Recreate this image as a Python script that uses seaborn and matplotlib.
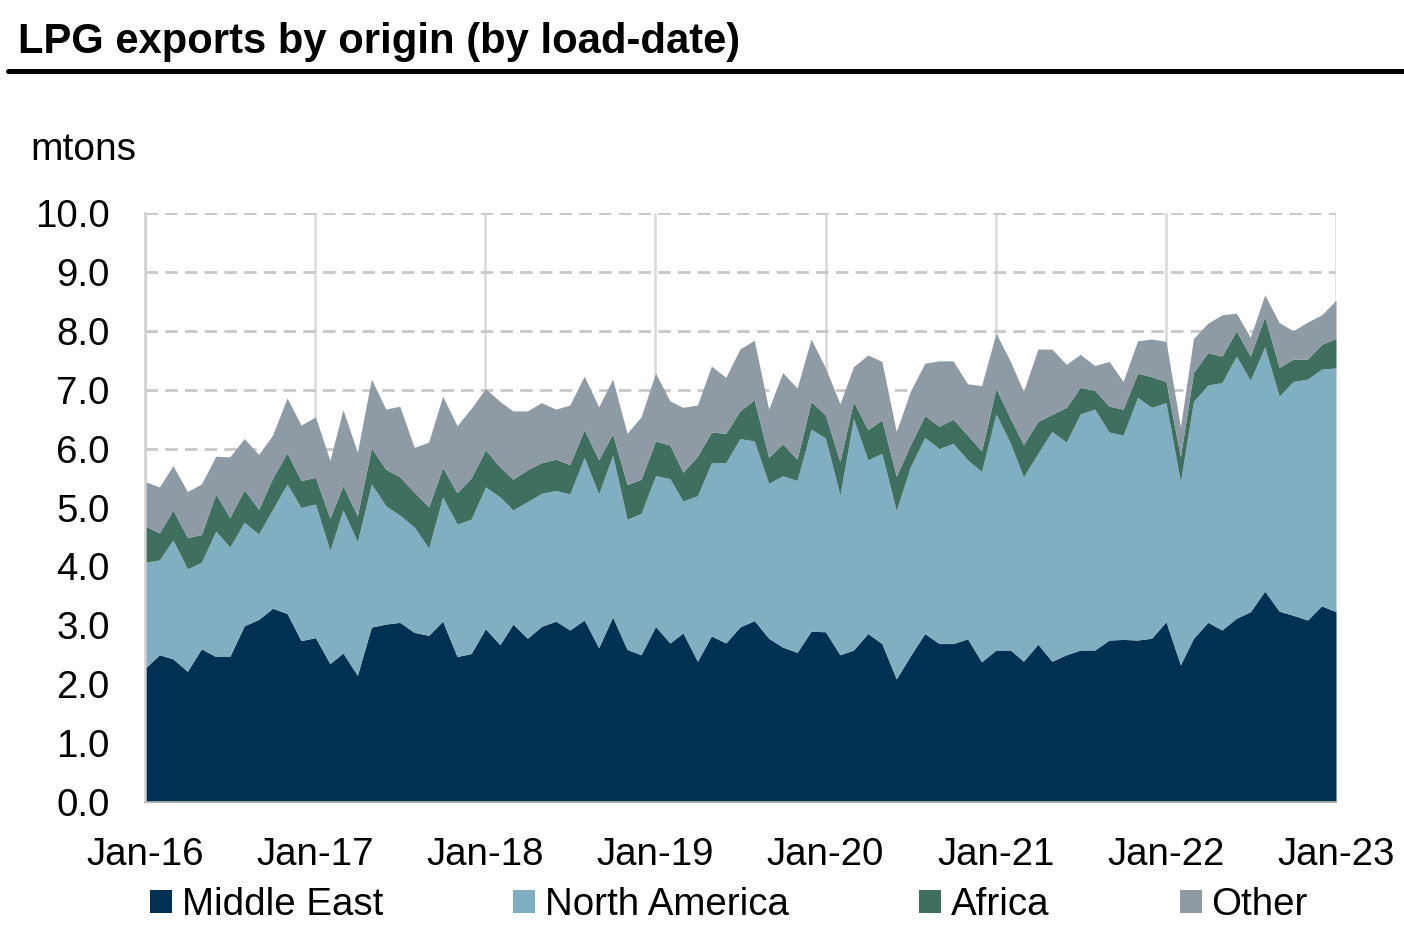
import numpy as np
import pandas as pd
import matplotlib
matplotlib.use("Agg")
import matplotlib.pyplot as plt
import matplotlib.dates as mdates
from matplotlib.lines import Line2D
from matplotlib.patches import Patch
import seaborn as sns

# ---------------- data (mtons, monthly Jan-16 .. Jan-23) ----------------
start_month = "2016-01-01"
end_month = "2023-01-01"

middle_east = [2.27, 2.50, 2.43, 2.22, 2.60, 2.47, 2.47, 2.99, 3.10, 3.29, 3.20, 2.74,
               2.79, 2.35, 2.53, 2.15, 2.97, 3.02, 3.05, 2.88, 2.83, 3.07, 2.47, 2.52,
               2.94, 2.67, 3.02, 2.78, 2.98, 3.07, 2.92, 3.09, 2.62, 3.14, 2.59, 2.50,
               2.98, 2.70, 2.87, 2.39, 2.82, 2.70, 2.97, 3.08, 2.78, 2.63, 2.54, 2.90,
               2.89, 2.50, 2.58, 2.86, 2.69, 2.09, 2.48, 2.86, 2.69, 2.69, 2.77, 2.38,
               2.58, 2.58, 2.39, 2.68, 2.39, 2.50, 2.58, 2.58, 2.75, 2.76, 2.75, 2.78,
               3.06, 2.33, 2.78, 3.05, 2.92, 3.12, 3.23, 3.58, 3.24, 3.17, 3.09, 3.33,
               3.23]

north_america = [1.80, 1.61, 2.02, 1.74, 1.47, 2.13, 1.86, 1.76, 1.45, 1.68, 2.20, 2.26,
                 2.27, 1.92, 2.43, 2.27, 2.43, 2.01, 1.82, 1.79, 1.48, 2.11, 2.25, 2.28,
                 2.41, 2.51, 1.94, 2.32, 2.26, 2.22, 2.31, 2.76, 2.61, 2.75, 2.21, 2.40,
                 2.56, 2.79, 2.24, 2.81, 2.94, 3.06, 3.20, 3.05, 2.63, 2.91, 2.92, 3.43,
                 3.29, 2.71, 3.93, 2.95, 3.23, 2.86, 3.21, 3.33, 3.31, 3.40, 3.04, 3.23,
                 4.01, 3.51, 3.13, 3.24, 3.90, 3.61, 4.01, 4.09, 3.53, 3.47, 4.12, 3.92,
                 3.72, 3.11, 4.02, 4.03, 4.20, 4.45, 3.93, 4.15, 3.65, 3.97, 4.09, 4.02,
                 4.14]

africa = [0.62, 0.46, 0.51, 0.53, 0.47, 0.63, 0.50, 0.55, 0.42, 0.53, 0.53, 0.46,
          0.45, 0.55, 0.41, 0.44, 0.61, 0.62, 0.65, 0.59, 0.70, 0.50, 0.53, 0.70,
          0.63, 0.51, 0.52, 0.54, 0.52, 0.53, 0.50, 0.47, 0.58, 0.36, 0.59, 0.58,
          0.59, 0.57, 0.49, 0.67, 0.52, 0.50, 0.47, 0.70, 0.44, 0.54, 0.36, 0.47,
          0.39, 0.57, 0.29, 0.51, 0.57, 0.58, 0.37, 0.37, 0.38, 0.41, 0.42, 0.35,
          0.43, 0.42, 0.55, 0.54, 0.29, 0.59, 0.45, 0.32, 0.44, 0.44, 0.41, 0.52,
          0.36, 0.42, 0.49, 0.55, 0.45, 0.43, 0.41, 0.51, 0.49, 0.38, 0.34, 0.42,
          0.50]

other = [0.75, 0.78, 0.75, 0.78, 0.86, 0.64, 1.03, 0.87, 0.93, 0.73, 0.93, 0.94,
         1.03, 0.98, 1.29, 1.08, 1.17, 1.02, 1.20, 0.76, 1.10, 1.21, 1.14, 1.18,
         1.04, 1.11, 1.16, 1.00, 1.02, 0.85, 1.01, 0.91, 0.90, 0.93, 0.87, 1.06,
         1.15, 0.75, 1.10, 0.87, 1.12, 0.95, 1.05, 1.01, 0.82, 1.21, 1.21, 1.06,
         0.80, 0.98, 0.59, 1.27, 0.99, 0.76, 0.91, 0.89, 1.11, 0.99, 0.87, 1.11,
         0.94, 0.97, 0.90, 1.23, 1.11, 0.73, 0.56, 0.42, 0.76, 0.47, 0.55, 0.64,
         0.68, 0.51, 0.58, 0.50, 0.70, 0.30, 0.32, 0.37, 0.76, 0.48, 0.63, 0.50,
         0.65]

series_names = ["Middle East", "North America", "Africa", "Other"]
series_colors = ["#003152", "#7FAFC0", "#3F6F5F", "#8E9BA5"]
y_ticks = [0, 1, 2, 3, 4, 5, 6, 7, 8, 9, 10]

dates = pd.date_range(start_month, end_month, freq="MS")
df = pd.DataFrame({"date": dates,
                   "Middle East": middle_east,
                   "North America": north_america,
                   "Africa": africa,
                   "Other": other})

# ---------------- style ----------------
sns.set_theme(style="white")
plt.rcParams["font.family"] = ["Liberation Sans", "DejaVu Sans"]
plt.rcParams["text.color"] = "black"

FS = 27.7
W, H = 1404, 939
fig = plt.figure(figsize=(W / 100, H / 100), dpi=100)
ax = fig.add_axes([145 / W, 1 - 802 / H, (1336 - 145) / W, (802 - 213) / H])

ax.stackplot(df["date"], [df[n] for n in series_names], colors=series_colors,
             labels=series_names, linewidth=0, zorder=2)

ax.set_xlim(dates[0], dates[-1])
ax.set_ylim(0, 10)
ax.set_yticks(y_ticks)
ax.yaxis.set_major_formatter(matplotlib.ticker.FormatStrFormatter("%.1f"))
ax.xaxis.set_major_locator(mdates.YearLocator())
ax.xaxis.set_major_formatter(mdates.DateFormatter("%b-%y"))

ax.set_axisbelow(True)
ax.grid(axis="y", color="#c8c8c8", linestyle=(0, (4.5, 2.6)), linewidth=2)
ax.grid(axis="x", color="#d9d9d9", linestyle="-", linewidth=1.8)

for s in ["top", "right"]:
    ax.spines[s].set_visible(False)
ax.spines["left"].set_color("#d0d0d0")
ax.spines["left"].set_linewidth(1.8)
ax.spines["bottom"].set_color("#b8b8b8")
ax.spines["bottom"].set_linewidth(1.2)

ax.tick_params(axis="y", length=0, pad=25.5, labelsize=FS, labelcolor="black")
ax.tick_params(axis="x", length=9, width=1.8, color="#d0d0d0", direction="out",
               pad=16, labelsize=FS, labelcolor="black")
ax.set_xlabel("")
ax.set_ylabel("")

# title and rule
fig.text(18 / W, 1 - 53 / H, "LPG exports by origin (by load-date)",
         fontsize=30.1, fontweight="bold", va="baseline", ha="left", color="black")
fig.add_artist(Line2D([8 / W, 1.0], [1 - 70.5 / H, 1 - 70.5 / H],
                      color="black", linewidth=3.6))
fig.text(30 / W, 1 - 160 / H, "mtons", fontsize=28, va="baseline", ha="left",
         color="black")

# legend
handles = [Patch(facecolor=c, edgecolor="none") for c in series_colors]
leg = fig.legend(handles, series_names, loc="center left",
                 bbox_to_anchor=(150 / W, 1 - 905 / H), ncol=4, frameon=False,
                 fontsize=FS, handlelength=0.57, handleheight=0.57,
                 handletextpad=0.26, columnspacing=3.38, borderpad=0,
                 borderaxespad=0)
for t in leg.get_texts():
    t.set_color("black")

fig.savefig("out.png", dpi=100)
